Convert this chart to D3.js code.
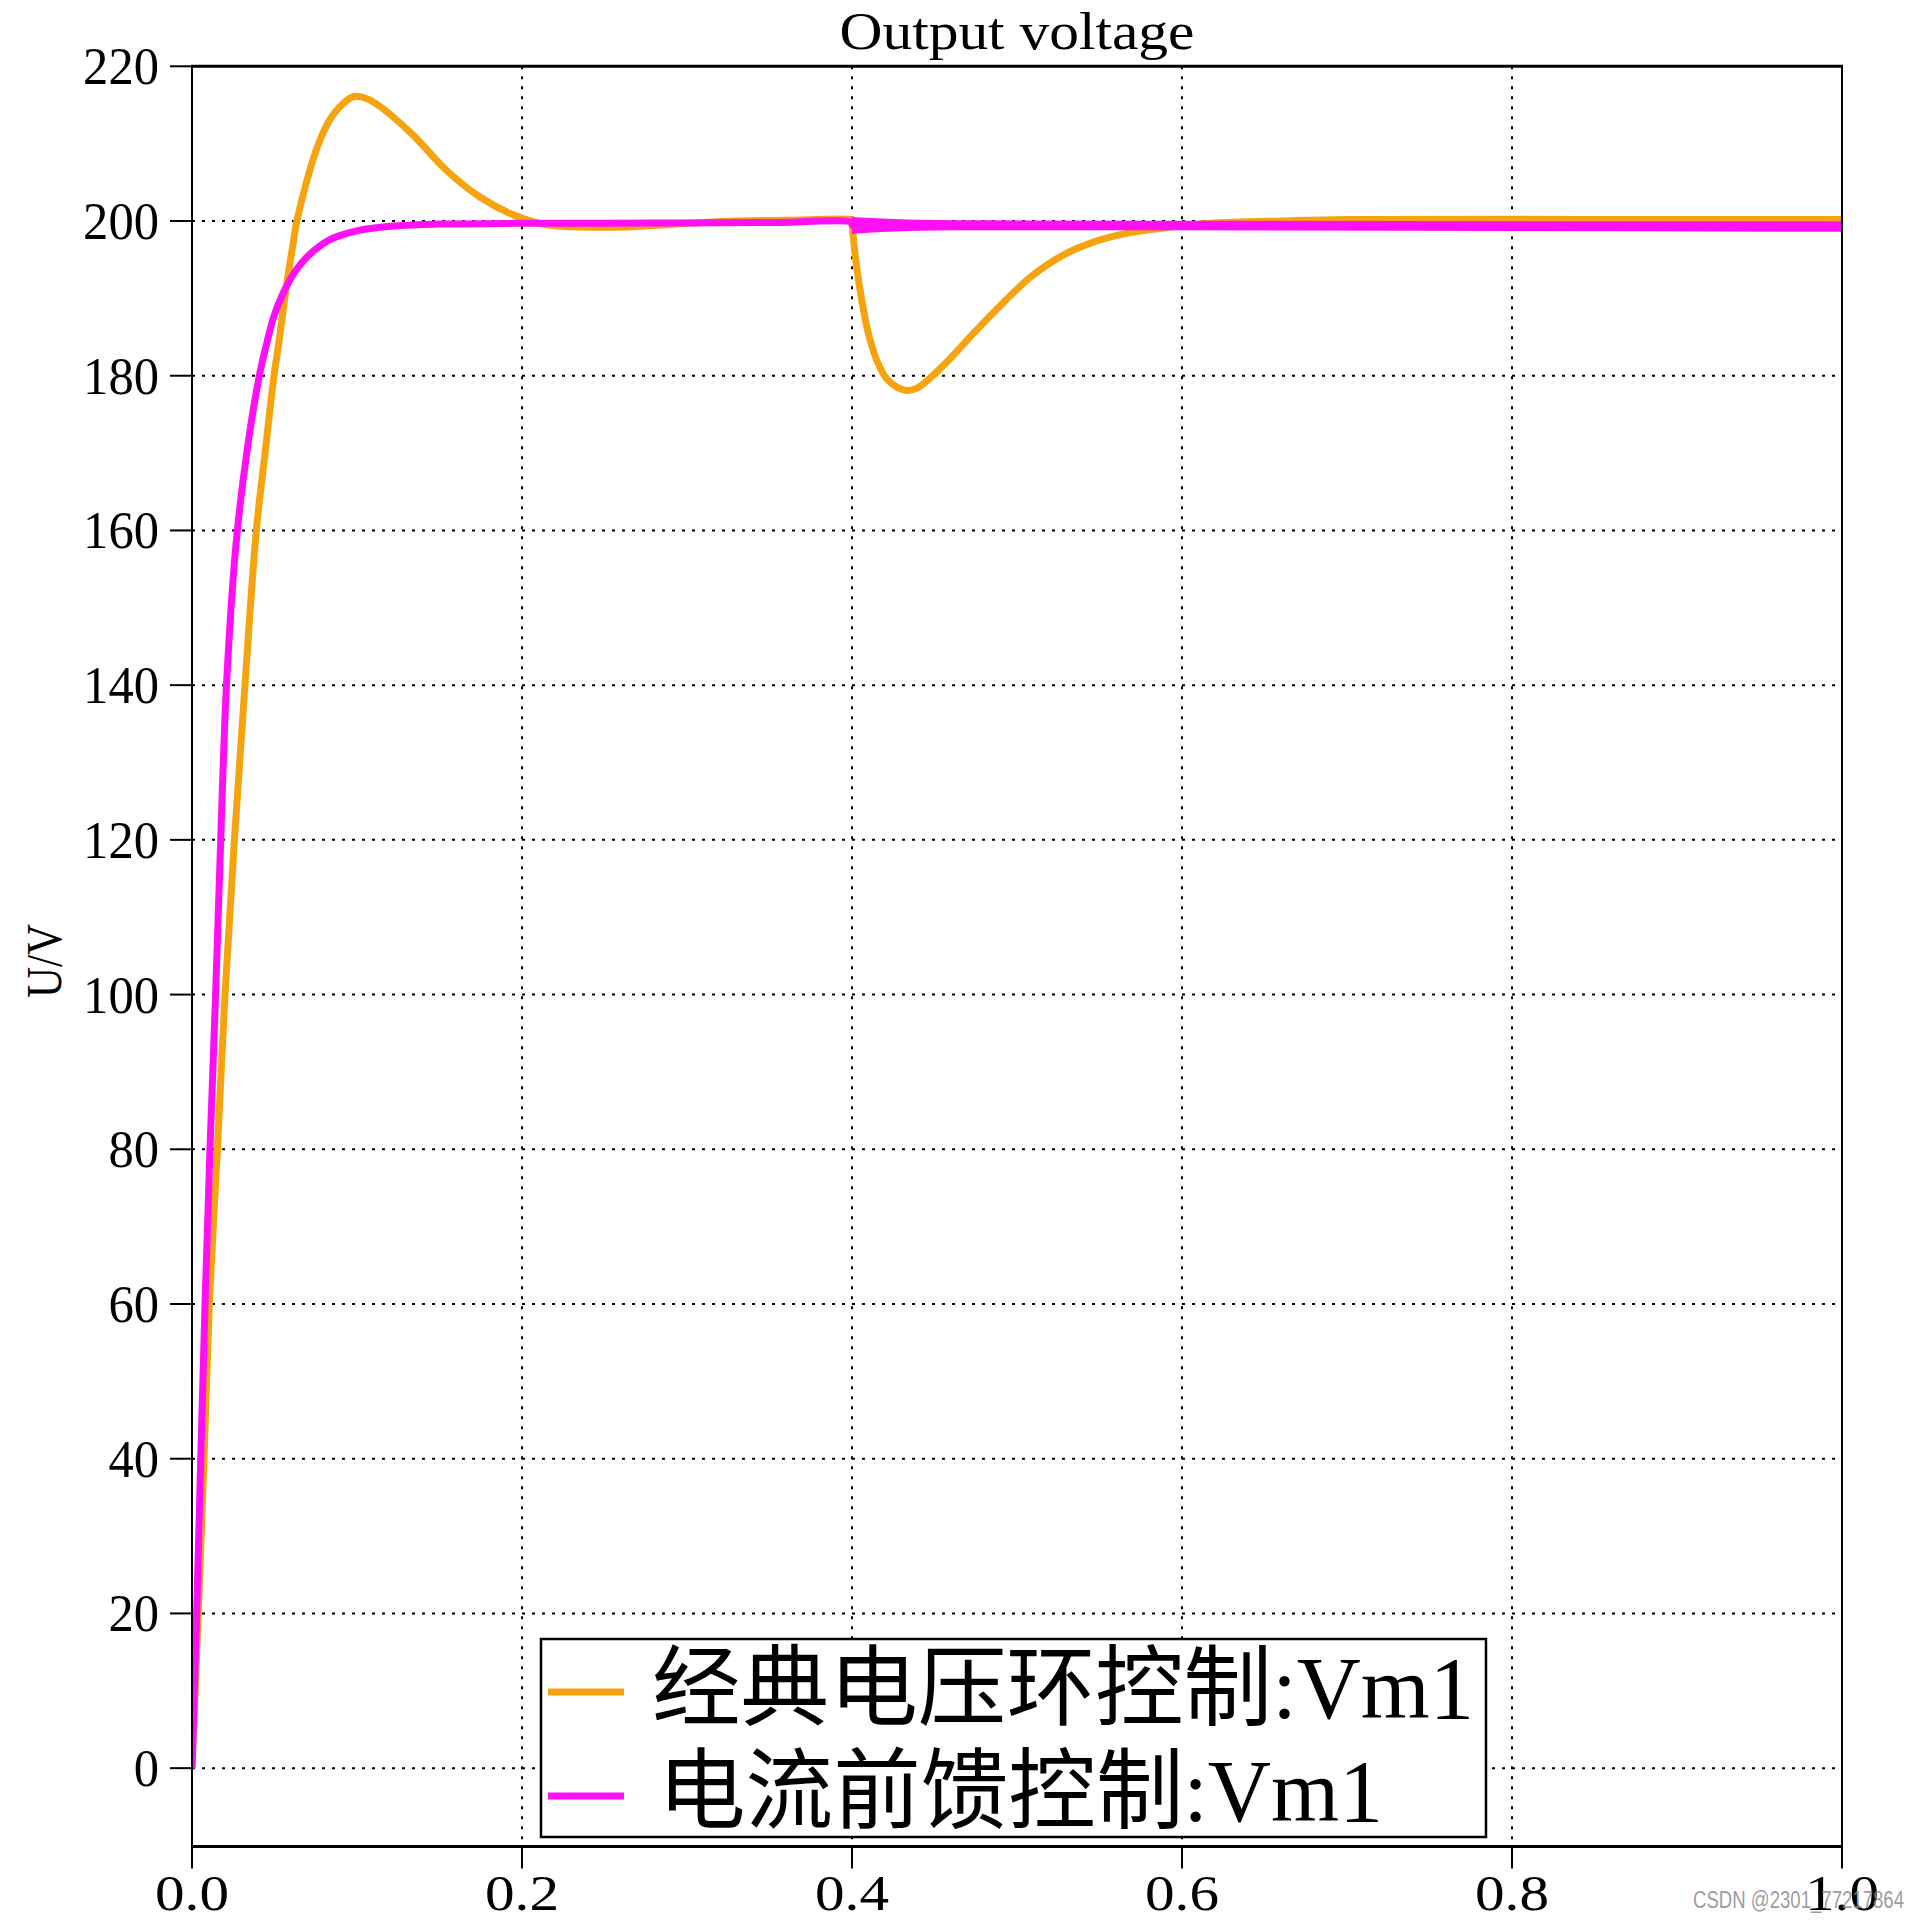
<!DOCTYPE html>
<html><head><meta charset="utf-8">
<script src="https://cdn.jsdelivr.net/npm/d3@7/dist/d3.min.js"></script>
<style>html,body{margin:0;padding:0;background:#fff;}svg{display:block;}</style>
</head><body>
<script>
// ---- data ----
const titleText = "Output voltage";
const yLabel = "U/V";
const xTicks = [0, 0.2, 0.4, 0.6, 0.8, 1.0];
const xTickLabels = ["0.0", "0.2", "0.4", "0.6", "0.8", "1.0"];
const yTicks = [0, 20, 40, 60, 80, 100, 120, 140, 160, 180, 200, 220];
const seriesNames = ["经典电压环控制:Vm1", "电流前馈控制:Vm1"];

// classic voltage-loop control (orange)
const classicT = [0, 0.0038, 0.0073, 0.0105, 0.0154, 0.020, 0.0257, 0.0321, 0.0390, 0.0443, 0.0497, 0.0523, 0.055, 0.0578, 0.061, 0.0634, 0.0695, 0.076, 0.0836, 0.0917, 0.0982, 0.106, 0.114, 0.134, 0.154, 0.1745, 0.1947, 0.215, 0.24, 0.27, 0.30, 0.33, 0.36, 0.399,
  0.4, 0.4004, 0.4028, 0.4059, 0.4099, 0.415, 0.421, 0.4275, 0.4332, 0.4395, 0.4473, 0.4594, 0.4715, 0.4877, 0.5079, 0.528, 0.548, 0.5685, 0.5887, 0.60, 0.63, 0.66, 0.70, 0.85, 1.0];
const classicV = [0, 20, 40, 60, 80, 100, 120, 140, 160, 170, 180, 183.75, 188.1, 192.4, 196.7, 199.8, 205.1, 209.6, 213.1, 215.2, 216.1, 215.8, 214.8, 211.1, 206.6, 203.1, 200.8, 199.5, 199.2, 199.3, 199.7, 200.0, 200.1, 200.2,
  200.1, 198.8, 194.1, 189.8, 185.5, 182.0, 179.6, 178.5, 178.1, 178.4, 179.7, 182.2, 185.0, 188.6, 192.7, 195.6, 197.4, 198.5, 199.1, 199.4, 199.8, 200.0, 200.2, 200.2, 200.2];
// steady-state noise envelope of the orange trace
const classicBandT = [0.6, 0.63, 1.0];
const classicBandLo = [199.1, 199.6, 199.8];
const classicBandHi = [199.8, 200.3, 200.55];

// current feed-forward control (magenta)
const feedT = [0, 0.0028, 0.0053, 0.0079, 0.0109, 0.0143, 0.0174, 0.0209, 0.0268, 0.0335, 0.0408, 0.0448, 0.0503, 0.0594, 0.0665, 0.0735, 0.0836, 0.094, 0.1038, 0.125, 0.15, 0.2, 0.25, 0.30, 0.35, 0.3999,
  0.4, 0.41, 0.5, 0.75, 1.0];
const feedV = [0, 20, 40, 60, 80, 100, 120, 140, 158.5, 170.5, 180, 183.75, 188.1, 192.4, 194.6, 196.1, 197.6, 198.4, 198.9, 199.4, 199.6, 199.7, 199.7, 199.75, 199.8, 199.8,
  199.5, 199.4, 199.3, 199.3, 199.3];
// steady-state noise envelope of the magenta trace (after the load step)
const feedBandT = [0.4, 0.402, 0.466, 1.0];
const feedBandLo = [198.3, 198.4, 198.8, 198.6];
const feedBandHi = [200.6, 200.5, 200.1, 199.95];

const watermark = "CSDN @2301_77217864";

// ---- drawing ----
const W = 1920, H = 1920;
const svg = d3.select("body").append("svg").attr("width", W).attr("height", H)
  .attr("font-family", "'Liberation Serif', 'DejaVu Serif', serif");

const x = d3.scaleLinear().domain([0, 1]).range([192, 1842]);
const y = d3.scaleLinear().domain([-10, 220]).range([1845.5, 66.3]);
const [x0, x1] = x.range();
const yB = y(-10), yT = y(220);

svg.append("defs").append("clipPath").attr("id", "clip")
  .append("rect").attr("x", x0).attr("y", yT).attr("width", x1 - x0).attr("height", yB - yT);

// grid
const grid = svg.append("g").attr("stroke", "#000").attr("stroke-width", 2).attr("stroke-dasharray", "3,7");
grid.selectAll("line.h").data(yTicks.filter(v => v < 220)).join("line")
  .attr("x1", x0).attr("x2", x1).attr("y1", d => y(d)).attr("y2", d => y(d));
grid.selectAll("line.v").data(xTicks.filter(v => v > 0 && v < 1)).join("line").attr("class", "v")
  .attr("y1", yT).attr("y2", yB).attr("x1", d => x(d)).attr("x2", d => x(d));

// traces
const plot = svg.append("g").attr("clip-path", "url(#clip)");
const curve = d3.curveCatmullRom.alpha(0.5);
const line = d3.line().x(d => x(d[0])).y(d => y(d[1])).curve(curve);
const area = d3.area().x(d => x(d[0])).y0(d => y(d[1])).y1(d => y(d[2])).curve(d3.curveMonotoneX);
const orange = "#F5A40F", magenta = "#FF0FF5";

plot.append("path").datum(classicT.map((t, i) => [t, classicV[i]]))
  .attr("d", line).attr("fill", "none").attr("stroke", orange).attr("stroke-width", 7).attr("stroke-linejoin", "round");
plot.append("path").datum(classicBandT.map((t, i) => [t, classicBandLo[i], classicBandHi[i]]))
  .attr("d", area).attr("fill", orange);
plot.append("path").datum(feedT.map((t, i) => [t, feedV[i]]))
  .attr("d", line).attr("fill", "none").attr("stroke", magenta).attr("stroke-width", 7).attr("stroke-linejoin", "round");
plot.append("path").datum(feedBandT.map((t, i) => [t, feedBandLo[i], feedBandHi[i]]))
  .attr("d", area).attr("fill", magenta);

// axes frame
const frame = svg.append("g").attr("stroke", "#000").attr("fill", "none");
frame.append("line").attr("x1", x0).attr("x2", x0).attr("y1", yT).attr("y2", yB).attr("stroke-width", 2);
frame.append("line").attr("x1", x1).attr("x2", x1).attr("y1", yT).attr("y2", yB).attr("stroke-width", 2);
frame.append("line").attr("x1", x0 - 1).attr("x2", x1 + 1).attr("y1", yT).attr("y2", yT).attr("stroke-width", 3);
frame.append("line").attr("x1", x0 - 1).attr("x2", x1 + 1).attr("y1", yB + 1).attr("y2", yB + 1).attr("stroke-width", 3);

// y ticks + labels
const yAx = svg.append("g");
yAx.selectAll("line").data(yTicks).join("line")
  .attr("x1", x0 - 22).attr("x2", x0).attr("y1", d => y(d)).attr("y2", d => y(d))
  .attr("stroke", "#000").attr("stroke-width", 2);
yAx.selectAll("text").data(yTicks).join("text")
  .attr("x", 159).attr("y", d => y(d) + 18).attr("text-anchor", "end")
  .attr("font-size", 52)
  .attr("textLength", d => String(d).length * 25.3).attr("lengthAdjust", "spacingAndGlyphs")
  .text(d => String(d));

// x ticks + labels
const xAx = svg.append("g");
xAx.selectAll("line").data(xTicks).join("line")
  .attr("x1", d => x(d)).attr("x2", d => x(d)).attr("y1", yB + 1).attr("y2", yB + 23)
  .attr("stroke", "#000").attr("stroke-width", 2);
xAx.selectAll("text").data(xTicks).join("text")
  .attr("x", d => x(d)).attr("y", 1910).attr("text-anchor", "middle")
  .attr("font-size", 50)
  .attr("textLength", 74).attr("lengthAdjust", "spacingAndGlyphs")
  .text((d, i) => xTickLabels[i]);

// title
svg.append("text").attr("x", (x0 + x1) / 2).attr("y", 49).attr("text-anchor", "middle")
  .attr("font-size", 52).attr("textLength", 355).attr("lengthAdjust", "spacingAndGlyphs")
  .text(titleText);

// y label
svg.append("text").attr("transform", "translate(61,961) rotate(-90)").attr("text-anchor", "middle")
  .attr("font-size", 50).attr("textLength", 74).attr("lengthAdjust", "spacingAndGlyphs")
  .text(yLabel);

// legend
const lg = svg.append("g");
lg.append("rect").attr("x", 541).attr("y", 1639).attr("width", 945).attr("height", 198)
  .attr("fill", "#fff").attr("stroke", "#000").attr("stroke-width", 2.5);
const legendColors = [orange, magenta];
const legendY = [1692, 1796];
const legendBase = [1718, 1821];
const legendLen = [822, 725];
const legendX = [652, 658];
seriesNames.forEach((name, i) => {
  lg.append("line").attr("x1", 548).attr("x2", 624).attr("y1", legendY[i]).attr("y2", legendY[i])
    .attr("stroke", legendColors[i]).attr("stroke-width", 7);
  lg.append("text").attr("x", legendX[i]).attr("y", legendBase[i])
    .attr("font-family", "'Liberation Serif', 'Noto Sans CJK SC', serif")
    .attr("font-size", 88).attr("textLength", legendLen[i]).attr("lengthAdjust", "spacingAndGlyphs")
    .text(name);
});

// watermark
svg.append("text").attr("x", 1693).attr("y", 1908)
  .attr("font-family", "'Liberation Sans', Arial, sans-serif").attr("font-size", 23)
  .attr("fill", "#8a8a8a").attr("fill-opacity", 0.85)
  .attr("textLength", 211).attr("lengthAdjust", "spacingAndGlyphs")
  .text(watermark);
</script>
</body></html>
